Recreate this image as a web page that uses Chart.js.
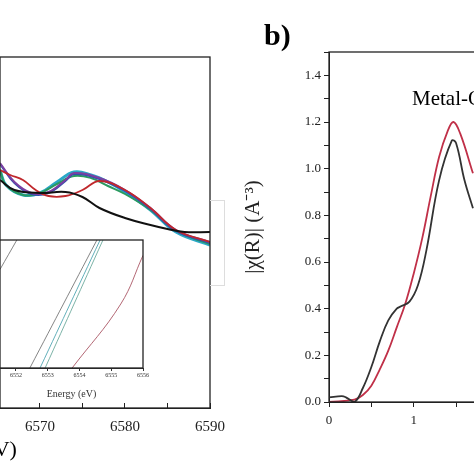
<!DOCTYPE html>
<html><head><meta charset="utf-8">
<script src="https://cdn.jsdelivr.net/npm/chart.js@4.4.0/dist/chart.umd.min.js"></script>
<style>
body{margin:0;width:474px;height:474px;overflow:hidden;position:relative;background:#fff;font-family:"Liberation Serif",serif}
canvas{position:absolute}
.t{position:absolute;white-space:nowrap;font-family:"Liberation Serif",serif}
</style></head><body>
<div id="w1" style="position:absolute;left:0;top:0;width:240px;height:474px"><canvas id="c1"></canvas></div>
<div style="position:absolute;left:210px;top:200px;width:14px;height:84px;border:1px solid #ddd;border-left:none"></div>
<div id="w3" style="position:absolute;left:0;top:230px;width:160px;height:170px"><canvas id="c3"></canvas></div>
<div id="w2" style="position:absolute;left:237px;top:0;width:440px;height:474px"><canvas id="c2"></canvas></div>
<div class="t" style="left:-92px;top:436px;font-size:22px">Energy (eV)</div>
<div class="t" style="left:264px;top:18px;font-size:30px;font-weight:bold">b)</div>
<div class="t" style="left:412px;top:86px;font-size:21px">Metal-O</div>
<script>
// Left panel: XANES (normalized, arbitrary units)
const energyBlack=[6565.3,6567,6570,6573,6575,6577,6580,6583,6585,6587,6590];
const valBlack=[1.14,1.09,1.075,1.08,1.055,1.0,0.95,0.915,0.895,0.88,0.88];
const energyRed=[6565.3,6566.5,6568,6569.5,6571,6573,6575,6577,6580,6583,6586,6590];
const valRed=[1.19,1.165,1.14,1.09,1.06,1.06,1.09,1.135,1.09,1.0,0.89,0.83];
const energyTeal=[6565.3,6566,6568,6570,6572,6574,6576,6578,6580,6583,6586,6590];
const valTeal=[1.19,1.115,1.065,1.075,1.13,1.18,1.165,1.13,1.08,0.99,0.88,0.815];
const valGreen=[1.19,1.115,1.065,1.075,1.12,1.16,1.15,1.11,1.07,0.99,0.885,0.82];
const energyBlue=[6565.3,6567,6569,6571,6573,6574,6577,6580,6583,6586,6590];
const valBlue=[1.225,1.13,1.075,1.08,1.14,1.175,1.15,1.09,1.0,0.89,0.83];
const xTicksLeft=[6570,6580,6590];
// Inset lines
const insetGrayX=[6552.44,6554.55], insetGrayY=[0,1];
const insetGray2X=[6551.5,6552.03], insetGray2Y=[0.77,1];
const insetTeal1X=[6552.76,6554.65], insetTeal1Y=[0,1];
const insetTeal2X=[6552.92,6554.74], insetTeal2Y=[0,1];
const insetRedX=[6553.77,6555.3,6556], insetRedY=[0,0.5,0.88];
const insetTicks=[6552,6553,6554,6555,6556];
// Right panel: |chi(R)|
const rBlack=[0,0.15,0.2,0.3,0.4,0.5,0.6,0.7,0.8,0.85,0.95,1.05,1.15,1.3,1.45,1.5,1.6,1.7];
const chiBlack=[0.02,0.025,0.02,0.0,0.06,0.15,0.26,0.35,0.40,0.41,0.43,0.5,0.65,0.95,1.12,1.11,0.95,0.83];
const rRed=[0,0.3,0.4,0.5,0.6,0.7,0.8,0.9,1.0,1.1,1.2,1.3,1.4,1.47,1.55,1.7];
const chiRed=[0.0,0.01,0.03,0.07,0.14,0.22,0.32,0.42,0.55,0.7,0.88,1.05,1.16,1.2,1.15,0.98];

const pts=(xs,ys)=>xs.map((x,i)=>({x,y:ys[i]}));
const frame={id:'frame',afterDraw(c){const a=c.chartArea,g=c.ctx;g.save();g.strokeStyle='#222';g.lineWidth=1.3;g.strokeRect(a.left,a.top,a.right-a.left,a.bottom-a.top);g.restore();}};
const white={id:'white',beforeDraw(c){const g=c.ctx;g.save();g.fillStyle='#fff';g.fillRect(c.chartArea.left,c.chartArea.top,c.chartArea.right-c.chartArea.left,c.chartArea.bottom-c.chartArea.top);g.restore();}};
const ds=(d,col,w)=>({data:d,borderColor:col,borderWidth:w,pointRadius:0,tension:0.4,fill:false});
const serif='Liberation Serif';

new Chart(c1,{type:'line',plugins:[frame],data:{datasets:[
 ds(pts(energyBlack,valBlack),'#111',2),
 ds(pts(energyRed,valRed),'#c0282c',1.8),
 ds(pts(energyBlue,valBlue),'#7b3fa0',2),
 ds(pts(energyBlue,valBlue.map(v=>v-0.005)),'#3050b0',2),
 ds(pts(energyTeal,valGreen),'#2a9a60',2),
 ds(pts(energyTeal,valTeal),'#2aa8c8',3)]},
 options:{animation:false,responsive:true,maintainAspectRatio:false,layout:{padding:{top:57,right:17,left:0}},
 plugins:{legend:{display:false},tooltip:{enabled:false}},
 scales:{x:{type:'linear',min:6565.3,max:6590,afterBuildTicks(s){s.ticks=[6565,6570,6575,6580,6585,6590].filter(v=>v>=s.min).map(v=>({value:v}));},
  afterFit(s){s.height=66;},
  ticks:{color:'#222',font:{family:serif,size:15},padding:15,callback:v=>xTicksLeft.includes(v)?String(v):''},
  grid:{drawOnChartArea:false,tickLength:-5,color:'#222'},border:{color:'#222'}},
 y:{display:false,min:0,max:1.755}}}});

new Chart(c3,{type:'line',plugins:[white,frame],data:{datasets:[
 ds(pts(insetGrayX,insetGrayY),'#666',0.8),ds(pts(insetGray2X,insetGray2Y),'#666',0.8),
 ds(pts(insetTeal1X,insetTeal1Y),'#3a9aa8',0.8),ds(pts(insetTeal2X,insetTeal2Y),'#5aa090',0.8),
 ds(pts(insetRedX,insetRedY),'#a04050',0.8)]},
 options:{animation:false,responsive:true,maintainAspectRatio:false,layout:{padding:{top:10,right:17,left:0}},
 plugins:{legend:{display:false},tooltip:{enabled:false}},
 scales:{x:{type:'linear',min:6551.5,max:6556,afterBuildTicks(s){s.ticks=insetTicks.map(v=>({value:v}));},
  afterFit(s){s.height=32;},
  ticks:{color:'#333',font:{family:serif,size:6},maxRotation:0,padding:1,callback:v=>String(v)},
  title:{display:true,text:'Energy (eV)',font:{family:serif,size:10},color:'#333',padding:0},
  grid:{drawOnChartArea:false,tickLength:3,color:'#333'},border:{color:'#333'}},
 y:{display:false,min:0,max:1}}}});

new Chart(c2,{type:'line',plugins:[frame],data:{datasets:[
 ds(pts(rBlack,chiBlack),'#333',1.8),ds(pts(rRed,chiRed),'#c03048',1.8)]},
 options:{animation:false,responsive:true,maintainAspectRatio:false,layout:{padding:{top:52,right:0}},
 plugins:{legend:{display:false},tooltip:{enabled:false}},
 scales:{x:{type:'linear',min:0,max:4,afterBuildTicks(s){s.ticks=[0,0.5,1,1.5,2,2.5,3,3.5,4].map(v=>({value:v}));},
  afterFit(s){s.height=72;},
  ticks:{color:'#222',font:{family:serif,size:13},padding:6,callback:v=>Number.isInteger(v)?String(v):''},
  grid:{drawOnChartArea:false,tickLength:5,color:'#222'},border:{color:'#222'}},
 y:{min:0,max:1.5,afterBuildTicks(s){const t=[];for(let i=0;i<=15;i++)t.push({value:i/10});s.ticks=t;},
  afterFit(s){s.width=92;},
  ticks:{color:'#222',font:{family:serif,size:13},callback:v=>(Math.round(v*10)%2===0&&v<1.45)?v.toFixed(1):''},
  title:{display:true,text:'|χ(R)| (A⁻³)',font:{family:serif,size:21},color:'#222',padding:{top:4,bottom:8}},
  grid:{drawOnChartArea:false,tickLength:5,color:'#222'},border:{color:'#222'}}}}});
</script></body></html>
